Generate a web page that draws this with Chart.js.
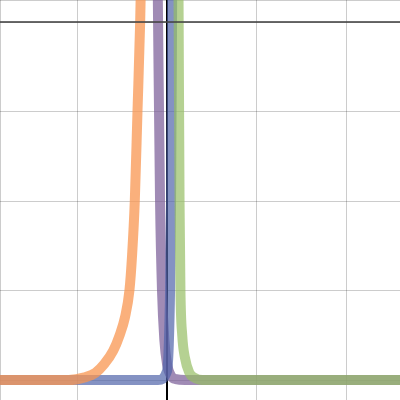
<!DOCTYPE html><html><head><script src="https://cdn.jsdelivr.net/npm/chart.js"></script>
<style>body{margin:0;background:#fff}#w{width:400px;height:400px}</style></head><body><div id="w"><canvas id="c"></canvas></div>
<script>
const orangeX=[-1.87,-1.1,-0.92,-0.8,-0.7,-0.6,-0.53,-0.47,-0.42,-0.39,-0.36,-0.33,-0.3,-0.28];
const orangeY=[0,0,0.03,0.08,0.18,0.33,0.5,0.7,1,1.4,2,3,4,5];
const greenX=[0.12,0.13,0.14,0.15,0.17,0.2,0.25,0.3,0.4,2.7];
const greenY=[6,4,2,1,0.5,0.25,0.08,0.03,0,0];
const blueX=[-1.87,-0.1,0,0.02,0.034,0.045,0.056,0.065];
const blueY=[0,0,0.1,0.4,1,2,4,6];
const purpleX=[-0.12,-0.1,-0.078,-0.056,-0.03,0,0.05,0.1,0.2,2.7];
const purpleY=[6,4,2,1,0.45,0.18,0.04,0.01,0,0];
const hLineX=[-1.87,2.7], hLineY=[4,4];
const pts=(xs,ys)=>xs.map((x,i)=>({x,y:ys[i]}));
const ds=(xs,ys,c,w)=>({data:pts(xs,ys),borderColor:c,borderWidth:w,pointRadius:0,cubicInterpolationMode:'monotone',fill:false});
new Chart(document.getElementById('c'),{type:'line',
data:{datasets:[
ds(hLineX,hLineY,'rgba(70,70,70,0.8)',2),
ds(orangeX,orangeY,'rgba(248,150,80,0.75)',10),
ds(greenX,greenY,'rgba(150,190,100,0.7)',10),
ds(blueX,blueY,'rgba(80,100,170,0.7)',10),
ds(purpleX,purpleY,'rgba(120,90,150,0.7)',10)
]},
options:{responsive:true,maintainAspectRatio:false,animation:false,events:[],
layout:{padding:0},plugins:{legend:{display:false},tooltip:{enabled:false}},
scales:{
x:{type:'linear',min:-1.866,max:2.603,ticks:{display:false,stepSize:1},border:{display:false},
 grid:{drawTicks:false,color:c=>c.tick&&c.tick.value===0?'#000':'rgba(0,0,0,0.2)',lineWidth:c=>c.tick&&c.tick.value===0?2:1}},
y:{type:'linear',min:-0.223,max:4.246,ticks:{display:false,stepSize:1},border:{display:false},
 grid:{drawTicks:false,color:'rgba(0,0,0,0.2)'}}
}}});
</script></body></html>
